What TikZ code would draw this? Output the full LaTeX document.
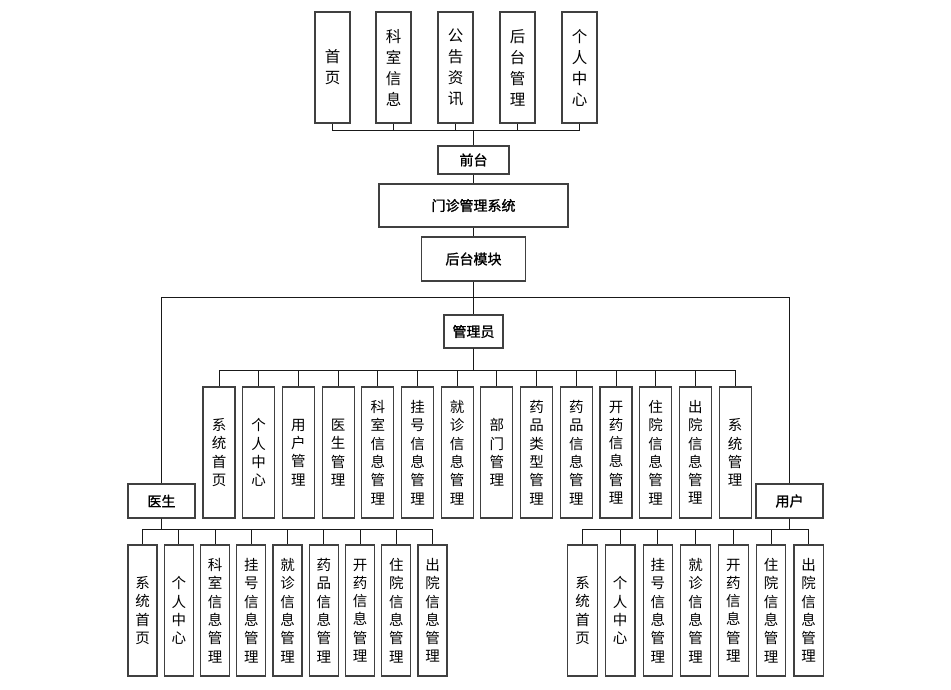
\documentclass[tikz,border=0pt]{standalone}
\usepackage{fontspec}
\setmainfont{Noto Sans CJK SC}
\newfontfamily\hfont{Noto Sans CJK SC}[FakeBold=1.3]
\begin{document}
\begin{tikzpicture}[x=1pt,y=-1pt,
  box/.style={draw=black!75,line width=1.1pt,fill=white,inner sep=0pt,align=center},
  topbox/.style={box,minimum width=35pt,minimum height=111pt,font=\fontsize{15.5}{21}\selectfont},
  adbox/.style={box,minimum width=32pt,minimum height=131pt,font=\fontsize{14.5}{18.3}\selectfont},
  dcbox/.style={box,minimum width=29pt,minimum height=131pt,font=\fontsize{14.5}{18.3}\selectfont},
  hbox/.style={box,font=\fontsize{14}{16}\hfont},
  conn/.style={draw=black!90,line width=1pt}]
\useasboundingbox (0,0) rectangle (951,690);

% top
\node[topbox] (t1) at (332.5,67.5) {首\\页};
\node[topbox] (t2) at (393.5,67.5) {科\\室\\信\\息};
\node[topbox] (t3) at (455.5,67.5) {公\\告\\资\\讯};
\node[topbox] (t4) at (517.5,67.5) {后\\台\\管\\理};
\node[topbox] (t5) at (579.5,67.5) {个\\人\\中\\心};
\coordinate (tb) at (0,131);

\node[hbox,minimum width=71pt,minimum height=28pt] (qt) at (473.5,160) {前台};
\node[hbox,minimum width=189pt,minimum height=43pt] (sys) at (473.5,205.5) {门诊管理系统};
\node[hbox,minimum width=104pt,minimum height=44pt] (ht) at (473.5,259) {后台模块};
\node[hbox,minimum width=59pt,minimum height=33pt] (gly) at (473.5,331.5) {管理员};
\node[hbox,minimum width=67pt,minimum height=34pt] (ys) at (161.5,501) {医生};
\node[hbox,minimum width=67pt,minimum height=34pt] (yh) at (789.5,501) {用户};
\coordinate (hb) at (0,297);
\coordinate (ab) at (0,370);
\coordinate (db) at (0,529);

% admin children
\foreach \t [count=\i from 0] in {系\\统\\首\\页,个\\人\\中\\心,用\\户\\管\\理,医\\生\\管\\理,科\\室\\信\\息\\管\\理,挂\\号\\信\\息\\管\\理,就\\诊\\信\\息\\管\\理,部\\门\\管\\理,药\\品\\类\\型\\管\\理,药\\品\\信\\息\\管\\理,开\\药\\信\\息\\管\\理,住\\院\\信\\息\\管\\理,出\\院\\信\\息\\管\\理,系\\统\\管\\理}{
  \node[adbox] (a\i) at ({219+39.7*\i},452.5) {\t};
  \draw[conn] (gly.south) -- (gly.south |- ab) -| (a\i.north);
}
% doctor children
\foreach \t [count=\i from 0] in {系\\统\\首\\页,个\\人\\中\\心,科\\室\\信\\息\\管\\理,挂\\号\\信\\息\\管\\理,就\\诊\\信\\息\\管\\理,药\\品\\信\\息\\管\\理,开\\药\\信\\息\\管\\理,住\\院\\信\\息\\管\\理,出\\院\\信\\息\\管\\理}{
  \node[dcbox] (d\i) at ({142.5+36.25*\i},610.5) {\t};
  \draw[conn] (ys.south) -- (ys.south |- db) -| (d\i.north);
}
% user children
\foreach \t [count=\i from 0] in {系\\统\\首\\页,个\\人\\中\\心,挂\\号\\信\\息\\管\\理,就\\诊\\信\\息\\管\\理,开\\药\\信\\息\\管\\理,住\\院\\信\\息\\管\\理,出\\院\\信\\息\\管\\理}{
  \node[dcbox,minimum width=29.5pt] (u\i) at ({582.5+37.7*\i},610.5) {\t};
  \draw[conn] (yh.south) -- (yh.south |- db) -| (u\i.north);
}

% top connectors
\foreach \i in {1,...,5}{
  \draw[conn] (t\i.south) -- (t\i.south |- tb) -| (qt.north);
}
\draw[conn] (qt.south) -- (sys.north);
\draw[conn] (sys.south) -- (ht.north);
\draw[conn] (ht.south) -- (gly.north);
\draw[conn] (ys.north) -- (ys.north |- hb) -- (yh.north |- hb) -- (yh.north);
\end{tikzpicture}
\end{document}
